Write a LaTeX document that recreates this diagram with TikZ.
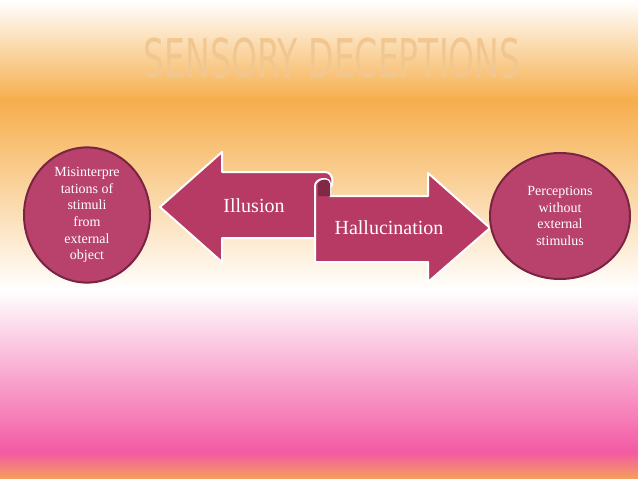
\documentclass[tikz,border=0pt]{standalone}
\usepackage{fontspec}
\usetikzlibrary{shapes.geometric}
\setmainfont{Liberation Serif}
\newfontfamily\titlefont{DejaVu Sans}
\begin{document}
\begin{tikzpicture}[x=0.75pt,y=-0.75pt]
\definecolor{org}{HTML}{F6AE4C}
\definecolor{pnk}{HTML}{F35AA3}
\definecolor{arr}{HTML}{B63A63}
\definecolor{circ}{HTML}{B8426B}
\definecolor{circd}{HTML}{7A2343}
\tikzset{shp/.style={fill=arr,draw=white,line width=1.5pt,line join=round},
 circbox/.style={ellipse,fill=circ,draw=circd,line width=1.5pt,text=white,align=center,font=\fontsize{10.5}{12.5}\selectfont,inner sep=0pt},
 lbl/.style={text=white,font=\fontsize{15}{18}\selectfont}}
\useasboundingbox (0,0) rectangle (638,478);
\shade[top color=white,bottom color=org] (0,0) rectangle (638,100);
\shade[top color=org,bottom color=white] (0,100) rectangle (638,290);
\shade[top color=white,bottom color=pnk] (0,290) rectangle (638,452);
\shade[top color=pnk,bottom color=org!80!pnk] (0,452) rectangle (638,478);
\node[text=org!40!white,font=\titlefont\fontsize{40}{40}\selectfont,xscale=0.62] (title) at (332,58) {SENSORY DECEPTIONS};
\node[text=org!60!brown,font=\titlefont\fontsize{40}{40}\selectfont,xscale=0.62,opacity=0.35] (title2) at (332,58) {SENSORY DECEPTIONS};
% left arrow
\path[shp] (160,207) -- (222,152) -- (222,172) -- (325,172) .. controls (335,172) and (335,190) .. (325,190) -- (330,190) -- (330,238) -- (222,238) -- (222,262) -- cycle;
% right arrow
\path[shp] (315,196) -- (315,186) .. controls (315,178) and (330,176) .. (330,184) -- (330,196) -- (428,196) -- (428,173) -- (490,228) -- (428,282) -- (428,262) -- (315,262) -- cycle;
\fill[arr!70!black] (318,184) .. controls (320,178) and (330,178) .. (330,184) -- (330,196) -- (318,196) -- cycle;
\node[lbl] (ill) at (254,206) {Illusion};
\node[lbl] (hal) at (389,228) {Hallucination};
\node[circbox,minimum width=94.5pt,minimum height=93pt] (c1) at (87,215) {Misinterpre\\tations of\\stimuli\\from\\external\\object};
\node[circbox,minimum width=105pt,minimum height=94.5pt] (c2) at (560,216) {Perceptions\\without\\external\\stimulus};
\end{tikzpicture}
\end{document}
